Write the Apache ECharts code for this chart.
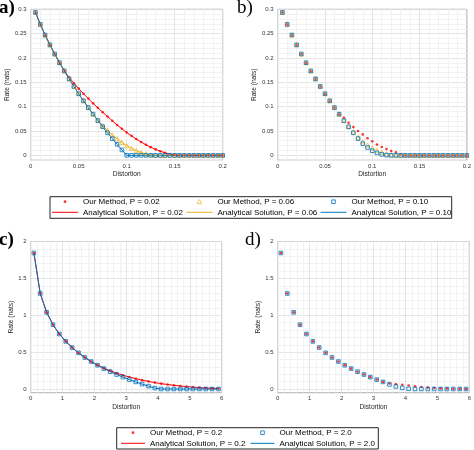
<!DOCTYPE html>
<html><head><meta charset="utf-8">
<script src="https://cdn.jsdelivr.net/npm/echarts@6/dist/echarts.min.js"></script>
<style>html,body{margin:0;padding:0;background:#fff}#c{width:474px;height:450px}</style>
</head><body><div id="c"></div>
<script>
// ---------- data ----------
const D1 = [0.005,0.01,0.015,0.02,0.025,0.03,0.035,0.04,0.045,0.05,0.055,0.06,0.065,0.07,0.075,0.08,0.085,0.09,0.095,0.1,
            0.105,0.11,0.115,0.12,0.125,0.13,0.135,0.14,0.145,0.15,0.155,0.16,0.165,0.17,0.175,0.18,0.185,0.19,0.195,0.2];
// panel a (analytical curves + markers on them)
const aRed  = [0.2936,0.2691,0.2472,0.2270,0.2082,0.1903,0.1740,0.1600,0.1480,0.1370,0.1265,0.1165,0.1068,0.0975,0.0885,0.0797,0.0710,0.0624,0.0545,0.0470,
               0.0400,0.0334,0.0273,0.0218,0.0168,0.0123,0.0084,0.0052,0.0026,0.0008,0,0,0,0,0,0,0,0,0,0];
const aYel  = [0.2936,0.2691,0.2472,0.2270,0.2082,0.1903,0.1734,0.1571,0.1416,0.1266,0.1121,0.0981,0.0846,0.0720,0.0610,0.0510,0.0420,0.0338,0.0265,0.0200,
               0.0143,0.0095,0.0056,0.0027,0.0008,0,0,0,0,0,0,0,0,0,0,0,0,0,0,0];
const aBlue = [0.2936,0.2691,0.2472,0.2270,0.2082,0.1903,0.1734,0.1571,0.1416,0.1266,0.1121,0.0981,0.0846,0.0714,0.0587,0.0463,0.0343,0.0226,0.0111,0,
               0,0,0,0,0,0,0,0,0,0,0,0,0,0,0,0,0,0,0,0];
// panel b (markers only)
const bRed  = [0.2936,0.2691,0.2472,0.2270,0.2082,0.1903,0.1734,0.1571,0.1416,0.1266,0.1121,0.0981,0.0846,0.0770,0.0670,0.0580,0.0500,0.0430,0.0350,0.0290,
               0.0220,0.0170,0.0130,0.0090,0.0060,0.0020,0,0,0,0,0,0,0,0,0,0,0,0,0,0];
const bYel  = [0.2936,0.2691,0.2472,0.2270,0.2082,0.1903,0.1734,0.1571,0.1416,0.1266,0.1121,0.0981,0.0846,0.0714,0.0587,0.0480,0.0370,0.0280,0.0210,0.0150,
               0.0100,0.0060,0.0030,0.0010,0,0,0,0,0,0,0,0,0,0,0,0,0,0,0,0];
const bBlue = [0.2936,0.2691,0.2472,0.2270,0.2082,0.1903,0.1734,0.1571,0.1416,0.1266,0.1121,0.0981,0.0846,0.0714,0.0587,0.0463,0.0343,0.0240,0.0160,0.0095,
               0.0050,0.0020,0.0005,0,0,0,0,0,0,0,0,0,0,0,0,0,0,0,0,0];

const D2 = [0.1,0.3,0.5,0.7,0.9,1.1,1.3,1.5,1.7,1.9,2.1,2.3,2.5,2.7,2.9,3.1,3.3,3.5,3.7,3.9,
            4.1,4.3,4.5,4.7,4.9,5.1,5.3,5.5,5.7,5.9];
const cRed  = [1.8444,1.2951,1.0397,0.8715,0.7458,0.6455,0.5619,0.4904,0.4279,0.3722,0.3222,0.2820,0.2470,0.2150,0.1870,0.1620,0.1400,0.1200,0.1030,0.0870,
               0.0730,0.0610,0.0500,0.0400,0.0320,0.0250,0.0190,0.0140,0.0100,0.0070];
const cBlue = [1.8444,1.2951,1.0397,0.8715,0.7458,0.6455,0.5619,0.4904,0.4279,0.3722,0.3222,0.2767,0.2350,0.1965,0.1608,0.1274,0.0962,0.0668,0.0390,0.0127,
               0,0,0,0,0,0,0,0,0,0];
const dRed  = [1.8444,1.2951,1.0397,0.8715,0.7458,0.6455,0.5619,0.4904,0.4279,0.3722,0.3222,0.2767,0.2350,0.1965,0.1608,0.1274,0.0962,0.0750,0.0660,0.0580,
               0.0470,0.0360,0.0270,0.0190,0.0130,0.0090,0.0060,0.0040,0.0020,0.0010];
const dBlue = [1.8444,1.2951,1.0397,0.8715,0.7458,0.6455,0.5619,0.4904,0.4279,0.3722,0.3222,0.2767,0.2350,0.1965,0.1608,0.1274,0.0962,0.0620,0.0350,0.0150,
               0.0030,0,0,0,0,0,0,0,0,0];

// tick labels
const xTicksTop = [0,0.05,0.1,0.15,0.2];
const yTicksTop = [0,0.05,0.1,0.15,0.2,0.25,0.3];
const xTicksBot = [0,1,2,3,4,5,6];
const yTicksBot = [0,0.5,1,1.5,2];

const legendTop = ['Our Method, P = 0.02','Our Method, P = 0.06','Our Method, P = 0.10',
                   'Analytical Solution, P = 0.02','Analytical Solution, P = 0.06','Analytical Solution, P = 0.10'];
const legendBot = ['Our Method, P = 0.2','Our Method, P = 2.0','Analytical Solution, P = 0.2','Analytical Solution, P = 2.0'];

// ---------- styling ----------
const RED = '#ff0000', YEL = '#edb120', BLU = '#0072bd';
const MAJ = '#dedede', MIN = '#efefef', TR = 'rgba(0,0,0,0)';
const FONT = 'Liberation Sans, Arial, sans-serif';

function pairs(xs, ys){ return xs.map((x,i)=>[x, ys[i]]); }
function fmt(ticks){ return v => { for (const t of ticks) if (Math.abs(t - v) < 1e-7) return String(t); return ''; }; }

function xAx(idx, min, max, interval, ticks, colors){
  return { gridIndex: idx, type:'value', min, max, interval,
    name:'Distortion', nameLocation:'middle', nameGap: 10.5,
    nameTextStyle:{ fontFamily: FONT, fontSize: 6.6, color:'#262626' },
    axisLine:{show:false}, axisTick:{show:false},
    axisLabel:{ fontFamily: FONT, fontSize: 6, color:'#333', margin: 3, formatter: fmt(ticks) },
    splitLine:{ show:true, lineStyle:{ color: colors, width: 0.8 } } };
}
function yAx(idx, min, max, interval, ticks, colors, gap){
  return { gridIndex: idx, type:'value', min, max, interval,
    name:'Rate (nats)', nameLocation:'middle', nameGap: gap,
    nameTextStyle:{ fontFamily: FONT, fontSize: 6.6, color:'#262626' },
    axisLine:{show:false}, axisTick:{show:false},
    axisLabel:{ fontFamily: FONT, fontSize: 6, color:'#333', margin: 4, formatter: fmt(ticks) },
    splitLine:{ show:true, lineStyle:{ color: colors, width: 0.8 } } };
}

const colX5 = [MAJ, MIN, MIN, MIN, MIN];
const colYTop = [MIN, MAJ, MIN, MIN, MIN];
const colYBot = [TR, MAJ, TR, MIN, TR, MIN, TR, MIN, TR, MIN];

const grid = [
  { left: 30.7, top: 9.3, width: 192, height: 150.9 },
  { left: 277.7, top: 9.3, width: 192.6, height: 150.9 },
  { left: 30.7, top: 241.5, width: 191, height: 151.2 },
  { left: 277.7, top: 241.5, width: 191.6, height: 151.2 }
].map(g => Object.assign(g, { show: true, borderColor: '#9a9a9a', borderWidth: 0.8, backgroundColor: '#fff' }));

function lineS(name, xi, xs, ys, color){
  return { name, type:'line', xAxisIndex: xi, yAxisIndex: xi, data: pairs(xs, ys), symbol:'none',
           lineStyle:{ color, width: 1 }, itemStyle:{ color }, z: 2, silent: true };
}
function dotS(name, xi, xs, ys){
  return { name, type:'scatter', xAxisIndex: xi, yAxisIndex: xi, data: pairs(xs, ys), symbol:'circle', symbolSize: 2.6,
           itemStyle:{ color: RED }, z: 3, silent: true };
}
function triS(name, xi, xs, ys){
  return { name, type:'scatter', xAxisIndex: xi, yAxisIndex: xi, data: pairs(xs, ys), symbol:'triangle', symbolSize: 4.2,
           itemStyle:{ color: TR, borderColor: YEL, borderWidth: 0.9 }, z: 4, silent: true };
}
function sqS(name, xi, xs, ys){
  return { name, type:'scatter', xAxisIndex: xi, yAxisIndex: xi, data: pairs(xs, ys), symbol:'rect', symbolSize: 3.6,
           itemStyle:{ color: TR, borderColor: BLU, borderWidth: 1 }, z: 5, silent: true };
}

const series = [
  lineS(legendTop[3], 0, D1, aRed, RED),
  lineS(legendTop[4], 0, D1, aYel, YEL),
  lineS(legendTop[5], 0, D1, aBlue, BLU),
  dotS(legendTop[0], 0, D1, aRed),
  triS(legendTop[1], 0, D1, aYel),
  sqS(legendTop[2], 0, D1, aBlue),
  dotS(legendTop[0], 1, D1, bRed),
  triS(legendTop[1], 1, D1, bYel),
  sqS(legendTop[2], 1, D1, bBlue),
  lineS(legendBot[2], 2, D2, cRed, RED),
  lineS(legendBot[3], 2, D2, cBlue, BLU),
  dotS(legendBot[0], 2, D2, cRed),
  sqS(legendBot[1], 2, D2, cBlue),
  dotS(legendBot[0], 3, D2, dRed),
  sqS(legendBot[1], 3, D2, dBlue)
];

// legend icons: paths whose bounding box equals the icon box (w x h), so nothing is stretched
const IH = 5;
function icons(w){
  const m = w / 2, c = IH / 2, box = 'path://M0,0 M' + w + ',' + IH + ' ';
  return {
    dot: { icon: box + 'M' + (m-1.4) + ',' + c + ' A1.4,1.4 0 1,0 ' + (m+1.4) + ',' + c + ' A1.4,1.4 0 1,0 ' + (m-1.4) + ',' + c + ' Z',
           itemStyle: { color: RED, borderWidth: 0 } },
    tri: { icon: box + 'M' + m + ',0.4 L' + (m+2.3) + ',' + (IH-0.5) + ' L' + (m-2.3) + ',' + (IH-0.5) + ' Z',
           itemStyle: { color: TR, borderColor: YEL, borderWidth: 0.9 } },
    sq:  { icon: box + 'M' + (m-1.8) + ',' + (c-1.8) + ' L' + (m+1.8) + ',' + (c-1.8) + ' L' + (m+1.8) + ',' + (c+1.8) + ' L' + (m-1.8) + ',' + (c+1.8) + ' Z',
           itemStyle: { color: TR, borderColor: BLU, borderWidth: 1 } },
    line: { icon: box + 'M0,' + (c-0.5) + ' L' + w + ',' + (c-0.5) + ' L' + w + ',' + (c+0.5) + ' L0,' + (c+0.5) + ' Z' }
  };
}
const legTxt = { fontFamily: FONT, fontSize: 8, color: '#000', lineHeight: 10.6 };
function leg(items, left, top, iw){
  const ic = icons(iw);
  return { data: items.map(([name, kind]) => Object.assign({ name }, ic[kind])), left, top, orient:'vertical',
           itemGap: 0, itemWidth: iw, itemHeight: IH, padding: 0, textStyle: legTxt, selectedMode: false };
}

const legend = [
  leg([[legendTop[0], 'dot'], [legendTop[3], 'line']], 52, 196.4, 26),
  leg([[legendTop[1], 'tri'], [legendTop[4], 'line']], 186, 196.4, 26),
  leg([[legendTop[2], 'sq'],  [legendTop[5], 'line']], 320, 196.4, 26),
  leg([[legendBot[0], 'dot'], [legendBot[2], 'line']], 121, 427.4, 24),
  leg([[legendBot[1], 'sq'],  [legendBot[3], 'line']], 250, 427.4, 24)
];

const panelFont = 'bold 19px "Liberation Serif", "Times New Roman", serif';
const panelFont2 = '19px "Liberation Serif", "Times New Roman", serif';
const graphic = [
  { type:'rect', shape:{ x: 50, y: 196.7, width: 401.7, height: 21.6 }, style:{ fill: 'none', stroke:'#262626', lineWidth: 1 }, z: -1, silent: true },
  { type:'rect', shape:{ x: 116.7, y: 427.7, width: 261.6, height: 21.3 }, style:{ fill: 'none', stroke:'#262626', lineWidth: 1 }, z: -1, silent: true },
  { type:'text', x: -1, y: -1, style:{ text:'a)', font: panelFont, fill:'#000' } },
  { type:'text', x: 237, y: -1, style:{ text:'b)', font: panelFont2, fill:'#000' } },
  { type:'text', x: -1, y: 231, style:{ text:'c)', font: panelFont, fill:'#000' } },
  { type:'text', x: 245, y: 231, style:{ text:'d)', font: panelFont2, fill:'#000' } }
];

const chart = echarts.init(document.getElementById('c'), null, { renderer: 'canvas' });
chart.setOption({
  animation: false,
  backgroundColor: '#fff',
  grid,
  xAxis: [
    xAx(0, 0, 0.2, 0.01, xTicksTop, colX5),
    xAx(1, 0, 0.2, 0.01, xTicksTop, colX5),
    xAx(2, 0, 6, 0.2, xTicksBot, colX5),
    xAx(3, 0, 6, 0.2, xTicksBot, colX5)
  ],
  yAxis: [
    yAx(0, -0.01, 0.3, 0.01, yTicksTop, colYTop, 13),
    yAx(1, -0.01, 0.3, 0.01, yTicksTop, colYTop, 13),
    yAx(2, -0.05, 2, 0.05, yTicksBot, colYBot, 9),
    yAx(3, -0.05, 2, 0.05, yTicksBot, colYBot, 9)
  ],
  legend,
  series,
  graphic
});
</script></body></html>
